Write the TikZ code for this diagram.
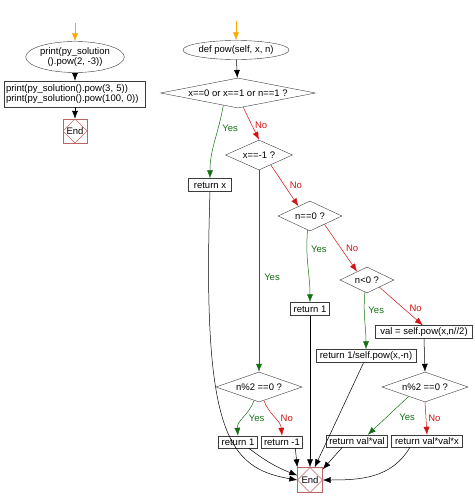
\documentclass[tikz,border=0pt]{standalone}
\usepackage{fontspec}
\setmainfont{Liberation Sans}
\usetikzlibrary{shapes.geometric,arrows.meta}
\definecolor{yescol}{RGB}{20,110,20}
\definecolor{nocol}{RGB}{210,20,20}
\definecolor{startcol}{RGB}{255,165,0}
\definecolor{endcol}{RGB}{190,100,100}
\definecolor{linecol}{RGB}{60,60,60}
\begin{document}
\begin{tikzpicture}[x=1pt,y=-1pt,
    every node/.style={font=\fontsize{9.5}{10.5}\selectfont},
    arr/.style={-{Latex[length=8pt,width=6pt]}, line width=0.5pt},
    yesarr/.style={arr, yescol},
    noarr/.style={arr, nocol},
    startarr/.style={arr, startcol},
    yes/.style={text=yescol, inner sep=0pt},
    no/.style={text=nocol, inner sep=0pt},
    oval/.style={ellipse, draw=linecol, inner sep=0pt},
    stmt/.style={rectangle, draw=linecol, inner sep=1.5pt, minimum height=13},
    cond/.style={diamond, draw=linecol, inner sep=0pt, aspect=2.5},
    stop/.style={rectangle, draw=endcol, minimum size=24, inner sep=0pt,
        path picture={\draw[endcol] (path picture bounding box.north) -- (path picture bounding box.east)
            -- (path picture bounding box.south) -- (path picture bounding box.west) -- cycle;}}]
    \useasboundingbox (0,0) rectangle (474,503);
    % left column
    \coordinate (sL) at (75,23);
    \node[oval, minimum width=90, minimum height=31, align=center] (eL) at (75,57) {print(py\_solution\\().pow(2, -3))};
    \node[stmt, text width=138, align=left, minimum height=26] (bL) at (75,94) {print(py\_solution().pow(3, 5))\\print(py\_solution().pow(100, 0))};
    \node[stop] (endL) at (75,131) {End};
    \draw[startarr] (sL) -- (eL.north);
    \draw[arr] (eL) -- (bL);
    \draw[arr] (bL) -- (endL);
    % main column
    \coordinate (sM) at (236,21);
    \node[oval, minimum width=88, minimum height=19] (eM) at (236,50) {def pow(self, x, n)};
    \node[cond, aspect=5.3, minimum width=155, minimum height=30] (d1) at (238,93) {x==0 or x==1 or n==1 ?};
    \node[cond, minimum width=67, minimum height=30] (d2) at (259,155) {x==-1 ?};
    \node[stmt, minimum width=43] (rx) at (210,185) {return x};
    \node[cond, minimum width=64, minimum height=30] (d3) at (310,216) {n==0 ?};
    \node[stmt, minimum width=39] (r1) at (310,309) {return 1};
    \node[cond, minimum width=54, minimum height=26] (d4) at (367,280) {n<0 ?};
    \node[stmt, minimum width=97] (val) at (424,332) {val = self.pow(x,n//2)};
    \node[stmt, minimum width=100] (rinv) at (366,356) {return 1/self.pow(x,-n)};
    \node[cond, minimum width=86, minimum height=30] (d5) at (425,387) {n\%2 ==0 ?};
    \node[cond, minimum width=86, minimum height=30] (d6) at (259,387) {n\%2 ==0 ?};
    \node[stmt, minimum width=61, minimum height=12] (rvv) at (357,441) {return val*val};
    \node[stmt, minimum width=71, minimum height=12] (rvvx) at (427,441) {return val*val*x};
    \node[stmt, minimum width=39, minimum height=12] (rone) at (238,442) {return 1};
    \node[stmt, minimum width=41, minimum height=12] (rneg) at (282,442) {return -1};
    \node[stop, minimum size=25] (endM) at (310,480) {End};
    \draw[startarr] (sM) -- (eM.north);
    \draw[arr] (eM) -- (d1);
    \draw[yesarr] (d1.-140) to[out=-100, in=90] node[yes, pos=0.3, right=4pt] {Yes} (rx.north);
    \draw[noarr] (d1.-70) -- node[no, pos=0.55, right=3pt] {No} (d2.north);
    \draw[yesarr] (d2.south) -- node[yes, pos=0.53, right=5pt] {Yes} (d6.north);
    \draw[noarr] (d2.-40) -- node[no, pos=0.5, right=5pt] {No} (d3.140);
    \draw[yesarr] (d3.-100) to[out=-95, in=90] node[yes, pos=0.25, right=4pt] {Yes} (r1.north);
    \draw[noarr] (d3.-30) -- node[no, pos=0.5, right=5pt] {No} (d4.140);
    \draw[yesarr] (d4.-100) to[out=-95, in=90] node[yes, pos=0.3, right=4pt] {Yes} (rinv.north);
    \draw[noarr] (d4.-30) -- node[no, pos=0.55, right=6pt] {No} (val.100);
    \draw[arr] (val.south) -- (d5.north);
    \draw[yesarr] (d5.-150) -- node[yes, pos=0.55, right=13pt] {Yes} (rvv.30);
    \draw[noarr] (d5.south) -- node[no, pos=0.5, right=2pt] {No} (rvvx.north);
    \draw[yesarr] (d6.-110) to[out=-110, in=95] node[yes, pos=0.5, right=5pt] {Yes} (rone.north);
    \draw[noarr] (d6.-70) to[out=-70, in=95] node[no, pos=0.5, right=6pt] {No} (rneg.north);
    % into End
    \draw[arr] (rx.south) .. controls +(-8,240) and +(-70,-12) .. (endM.west);
    \draw[arr] (rone.-30) to[bend right=8] (endM.160);
    \draw[arr] (rneg.-25) -- (endM.135);
    \draw[arr] (r1.south) -- (endM.north);
    \draw[arr] (rinv.-110) -- (endM.70);
    \draw[arr] (rvv.-157) -- (endM.40);
    \draw[arr] (rvvx.-160) to[out=-120, in=0] (endM.east);
\end{tikzpicture}
\end{document}
